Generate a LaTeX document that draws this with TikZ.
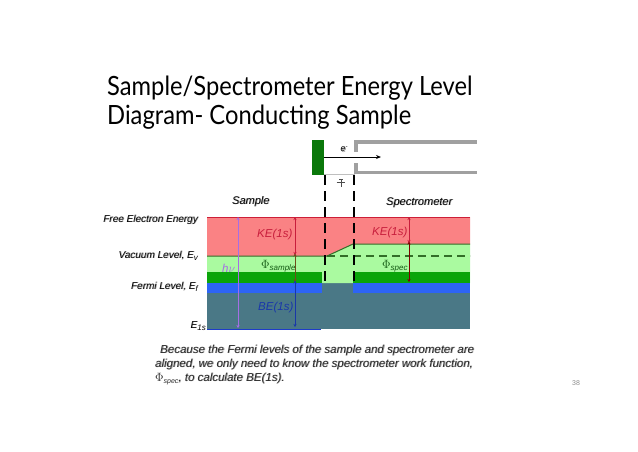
\documentclass[tikz,border=0pt]{standalone}
\usepackage{fontspec}
\setmainfont{Liberation Sans}
\newfontfamily\titlefont{Lato}
\usetikzlibrary{arrows.meta}
\definecolor{redband}{RGB}{250,130,132}
\definecolor{redline}{RGB}{205,30,55}
\definecolor{lgreen}{RGB}{170,250,160}
\definecolor{dgreen}{RGB}{10,165,10}
\definecolor{vacgreen}{RGB}{50,110,40}
\definecolor{blueband}{RGB}{45,100,245}
\definecolor{teal}{RGB}{74,120,134}
\definecolor{blueline}{RGB}{30,60,200}
\definecolor{purp}{RGB}{165,110,230}
\definecolor{redtxt}{RGB}{200,30,60}
\definecolor{greentxt}{RGB}{20,90,20}
\definecolor{bluetxt}{RGB}{25,55,170}
\definecolor{plate}{RGB}{10,120,10}
\definecolor{specgray}{RGB}{160,160,160}
\definecolor{captxt}{RGB}{40,40,40}
\newcommand{\shd}[1]{\rlap{\kern0.8pt\raisebox{-0.8pt}{\color{black!40}#1}}#1}
\newcommand{\subsc}[2]{\raisebox{-2.5pt}{\fontsize{#1}{#1}\selectfont #2}}
\tikzset{
  lbl/.style={font=\itshape\fontsize{10}{12}\selectfont, anchor=base east, inner sep=0pt},
  head/.style={font=\itshape\fontsize{11}{13}\selectfont, anchor=base west, inner sep=0pt},
  intxt/.style={font=\itshape\fontsize{11.5}{13}\selectfont, anchor=base west, inner sep=0pt},
  vdash/.style={black, line width=1.6pt, dash pattern=on 10pt off 6pt},
  darr/.style={line width=0.8pt, {Stealth[length=3pt,width=3pt]}-{Stealth[length=3pt,width=3pt]}},
  captext/.style={font=\itshape\fontsize{11.5}{14}\selectfont, anchor=base west, inner sep=0pt, text=captxt},
  titletext/.style={anchor=base west, inner sep=0pt, font=\titlefont\fontsize{26.5}{30}\selectfont},
}
\begin{document}
\begin{tikzpicture}[x=1pt,y=-1pt]
\useasboundingbox (0,0) rectangle (638,451);
% title
\node[titletext] (t1) at (107,95) {\scalebox{0.895}[1]{Sample/Spectrometer Energy Level}};
\node[titletext] (t2) at (107,124) {\scalebox{0.895}[1]{Diagram- Conducting Sample}};
% bands
\fill[teal] (207,283) rectangle (470,329);
\fill[lgreen] (207,256) -- (327,256) -- (353,244) -- (470,244) -- (470,283) -- (207,283) -- cycle;
\fill[redband] (207,217) -- (470,217) -- (470,244) -- (353,244) -- (327,256) -- (207,256) -- cycle;
\fill[dgreen] (207,272) rectangle (322,283);
\fill[dgreen] (353,272) rectangle (470,283);
\fill[blueband] (207,283) rectangle (322,293);
\fill[blueband] (353,283) rectangle (470,293);
\draw[redline, line width=1pt] (207,217) -- (470,217);
\draw[vacgreen, line width=1pt] (207,256) -- (327,256) -- (353,244) -- (470,244);
\draw[vacgreen, line width=1.3pt, dash pattern=on 8pt off 5pt] (327,256) -- (470,256);
\draw[blueline, line width=1pt] (207,329) -- (321,329);
% apparatus
\fill[plate] (312,140) rectangle (324,175);
\draw[black!25, line width=0.6pt] (324,174.5) -- (355,174.5);
\draw[specgray, line width=3.5pt] (356,152) -- (356,142) -- (477,142);
\draw[specgray, line width=3.5pt] (356,163) -- (356,172.5) -- (477,172.5);
\coordinate (eS) at (324,157);
\coordinate (eE) at (381,157);
\draw[black, line width=1pt, -{Stealth[length=5pt,width=4pt]}] (eS) -- (eE);
\node[font=\itshape\fontsize{9}{10}\selectfont, inner sep=0pt] (el) at (344,150) {\shd{e}\raisebox{3pt}{\fontsize{6}{6}\selectfont -}};
% small symbol between plates
\draw[black!70, line width=0.6pt] (339,179) -- (343,179) (336.5,182.5) -- (344.5,182.5) (341,179) -- (341,187);
% vertical dashed lines
\coordinate (d1t) at (325,175);
\coordinate (d1b) at (325,283);
\coordinate (d2t) at (354,175);
\coordinate (d2b) at (354,283);
\draw[vdash] (d1t) -- (d1b);
\draw[vdash] (d2t) -- (d2b);
% arrows
\coordinate (p1) at (238,217);
\coordinate (p2) at (238,328);
\draw[purp, darr] (p1) -- (p2);
\coordinate (s1) at (295,217);
\coordinate (s2) at (295,255);
\coordinate (s3) at (295,282);
\coordinate (s4) at (295,327);
\draw[redtxt, darr] (s1) -- (s2);
\draw[vacgreen!70!red, darr] ([yshift=1.5pt]s2) -- (s3);
\draw[bluetxt, darr] ([yshift=1.5pt]s3) -- (s4);
\coordinate (q1) at (409,217);
\coordinate (q2) at (409,243);
\coordinate (q3) at (409,282);
\draw[redtxt, darr] (q1) -- (q2);
\draw[red!50!black, darr] ([yshift=1.5pt]q2) -- (q3);
% text in diagram
\node[head] (hs) at (232,204) {\shd{Sample}};
\node[head] (hp) at (386,205) {\shd{Spectrometer}};
\node[lbl] (l1) at (198,222) {\shd{Free Electron Energy}};
\node[lbl] (l2) at (198,258) {\shd{Vacuum Level, E}\subsc{8}{v}};
\node[lbl] (l3) at (198,289) {\shd{Fermi Level, E}\subsc{8}{f}};
\node[lbl] (l4) at (206,328) {\shd{E}\subsc{8}{1s}};
\node[intxt, text=redtxt] (ke1) at (257,237) {KE(1s)};
\node[intxt, text=redtxt] (ke2) at (372,235) {KE(1s)};
\node[intxt, text=bluetxt] (be) at (258,310) {BE(1s)};
\node[intxt, text=greentxt] (ps) at (261,268) {\upshape$\Phi$\itshape\subsc{8}{sample}};
\node[intxt, text=greentxt] (pp) at (382,268) {\upshape$\Phi$\itshape\subsc{8}{spec}};
\node[intxt, text=purp] (hv) at (222,272) {h$\nu$};
% caption
\node[captext] (c1) at (160,353) {\shd{Because the Fermi levels of the sample and spectrometer are}};
\node[captext] (c2) at (155,367) {\shd{aligned, we only need to know the spectrometer work function,}};
\node[captext] (c3) at (155,381) {\upshape$\Phi$\itshape\subsc{7}{spec}\shd{, to calculate BE(1s).}};
\node[anchor=base west, inner sep=0pt, font=\fontsize{7}{8}\selectfont, text=black!45] (pg) at (572,385) {38};
\end{tikzpicture}
\end{document}
